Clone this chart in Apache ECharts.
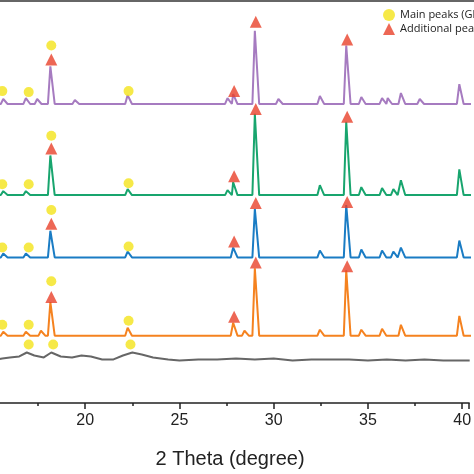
<!DOCTYPE html>
<html><head><meta charset="utf-8">
<script src="https://cdn.jsdelivr.net/npm/echarts@6/dist/echarts.min.js"></script>
<style>html,body{margin:0;padding:0;background:#fff;overflow:hidden;width:474px;height:474px}#c{width:486px;height:474px;margin-left:-12px}</style>
</head><body><div id="c"></div>
<script>
const AXIS_BOTTOM = 407;
const purplePeaks = [[15.7,102],[16.9,101],[17.5,102],[18.2,69],[19.5,103],[22.3,98],[27.6,101],[27.9,97],[29.05,33],[30.3,102],[32.5,99],[33.9,48],[34.7,100],[35.8,101],[36.1,101],[36.8,96],[37.8,102],[39.9,87]];
const greenPeaks  = [[15.7,195],[16.9,195],[18.2,159],[22.3,193],[27.6,194],[27.9,186],[29.05,117],[32.5,189],[33.9,125],[34.7,191],[35.8,192],[36.4,193],[36.8,184],[39.9,173]];
const bluePeaks   = [[15.7,258],[16.9,258],[18.2,235],[22.3,256],[27.9,252],[29.05,213],[32.5,255],[33.9,209],[34.7,254],[35.8,255],[36.4,256],[36.8,252],[39.9,245]];
const orangePeaks = [[15.7,337],[16.9,337],[17.7,336],[18.2,307],[22.3,333],[27.9,328],[28.5,336],[29.05,273],[32.5,335],[33.9,275],[34.7,335],[35.8,334],[36.8,330],[39.9,321]];
const grayPoints  = [[15,364],[15.6,362],[16.0,361],[16.5,360],[16.9,356],[17.3,359],[17.8,361],[18.2,356],[18.7,360],[19.3,361],[19.8,359],[20.3,360],[20.9,363],[21.5,363],[22.0,359],[22.5,356],[23.0,358],[23.6,361],[24.4,363],[25.0,364],[26.0,363],[27.0,363],[28.0,362],[29.0,363],[30.0,362],[31.0,364],[32.0,363],[33.0,363],[34.0,363],[35.0,364],[36.0,363],[37.0,364],[38.0,363],[39.0,364],[40.4,364]];
const baselines = {purple:105, green:197, blue:260, orange:339};
const circles = [[15.6,92],[17.0,93],[18.2,46],[22.3,92],
                 [15.6,186],[17.0,186],[18.2,137],[22.3,185],
                 [15.6,250],[17.0,250],[18.2,212],[22.3,249],
                 [15.6,328],[17.0,328],[18.2,284],[22.3,324],
                 [17.0,348],[18.3,348],[22.4,348]];
const triangles = [[18.2,60],[27.9,92],[29.05,22],[33.9,40],
                   [18.2,150],[27.9,178],[29.05,110],[33.9,118],
                   [18.2,226],[27.9,244],[29.05,205],[33.9,204],
                   [18.2,300],[27.9,320],[29.05,265],[33.9,269]];
const xTicks = [20,25,30,35,40];

function v(p){return AXIS_BOTTOM - p;}
function trace(peaks, base){
  const d=[[15,v(base)]];
  peaks.forEach(([x,t])=>{d.push([x-0.18,v(base)]);d.push([x-0.05,v(t)+2]);d.push([x,v(t)]);d.push([x+0.05,v(t)+2]);d.push([x+0.18,v(base)]);});
  d.push([40.5,v(base)]);
  return d;
}
function line(name,color,data){return {name,type:'line',data,showSymbol:false,lineStyle:{color,width:2},itemStyle:{color},z:2};}
const chart=echarts.init(document.getElementById('c'));
chart.setOption({
  animation:false,
  grid:{left:0,right:0,top:2,bottom:67},
  legend:{orient:'vertical',left:390,top:4,itemGap:2,itemWidth:12,itemHeight:12,
    textStyle:{fontSize:11,color:'#222',fontFamily:'Open Sans'},
    data:[{name:'Main peaks (Glucose)',icon:'circle'},{name:'Additional peaks',icon:'triangle'}]},
  xAxis:{type:'value',min:15,max:40.37,interval:5,
    axisLine:{lineStyle:{color:'#222',width:1.5}},
    axisTick:{inside:false,length:6,lineStyle:{color:'#222',width:1.5}},
    minorTick:{show:true,splitNumber:2,length:3,lineStyle:{color:'#222',width:1.5}},
    splitLine:{show:false},
    axisLabel:{fontSize:16,color:'#222',margin:10,fontFamily:'Liberation Sans',
      formatter:x=>xTicks.includes(x)?String(x):''},
    name:'2 Theta (degree)',nameLocation:'middle',nameGap:46,
    nameTextStyle:{fontSize:20,color:'#222',fontFamily:'Liberation Sans'}},
  yAxis:{type:'value',min:0,max:405,show:false},
  graphic:[{type:'rect',shape:{x:0,y:0,width:486,height:2},style:{fill:'#666'}}],
  series:[
    line('purple','#a67bc0',trace(purplePeaks,baselines.purple)),
    line('green','#18a56e',trace(greenPeaks,baselines.green)),
    line('blue','#1a7cc4',trace(bluePeaks,baselines.blue)),
    line('orange','#f5821f',trace(orangePeaks,baselines.orange)),
    line('gray','#666666',grayPoints.map(([x,p])=>[x,v(p)])),
    {name:'Main peaks (Glucose)',type:'scatter',symbol:'circle',symbolSize:10,
     itemStyle:{color:'#f4e41a'},data:circles.map(([x,p])=>[x,v(p)]),z:3},
    {name:'Additional peaks',type:'scatter',symbol:'triangle',symbolSize:12,
     itemStyle:{color:'#e8412a'},data:triangles.map(([x,p])=>[x,v(p)]),z:3}
  ]
});
</script></body></html>
